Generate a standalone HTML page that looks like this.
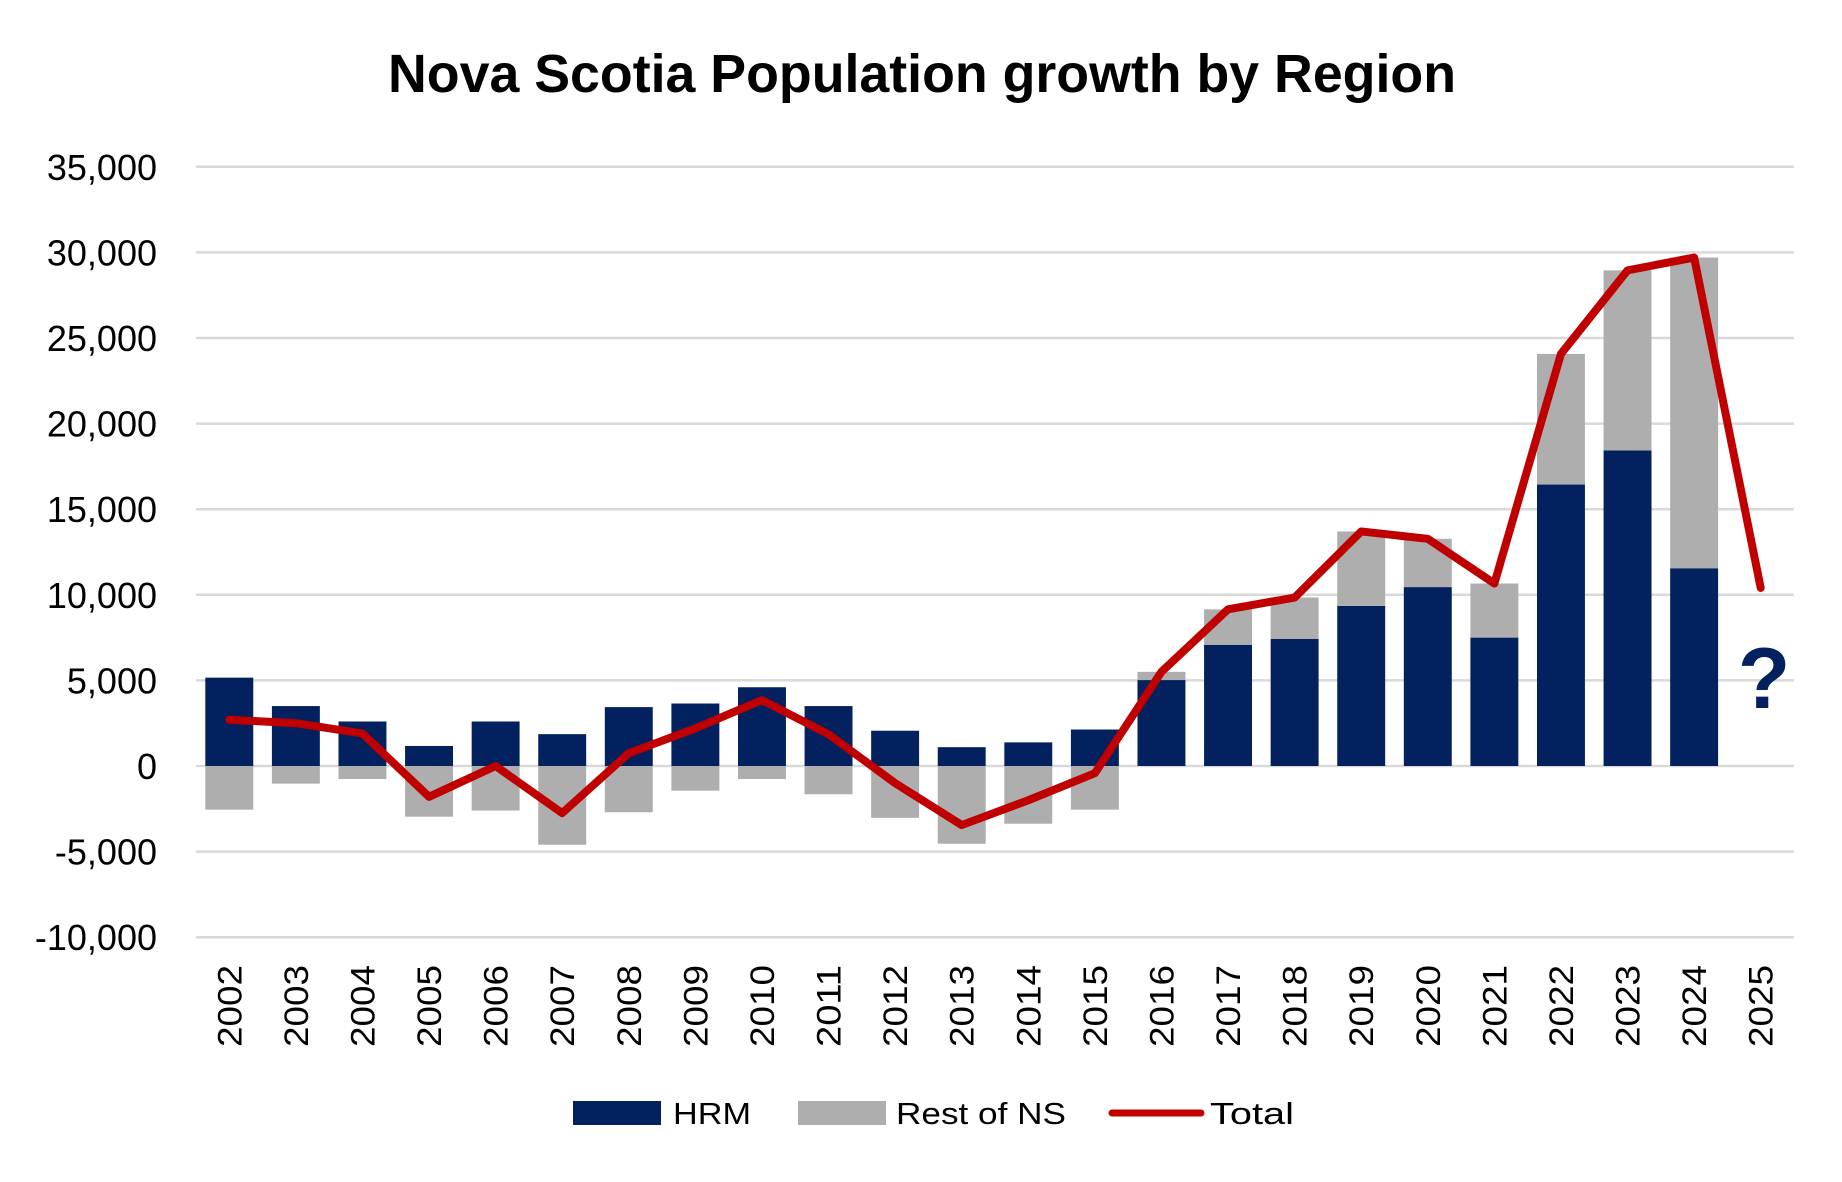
<!DOCTYPE html>
<html><head><meta charset="utf-8"><style>
html,body{margin:0;padding:0;background:#fff;}
svg{display:block;font-family:"Liberation Sans",sans-serif;}
</style></head><body>
<svg id="chart" width="1842" height="1182" viewBox="0 0 1842 1182" xmlns="http://www.w3.org/2000/svg">
<text x="922" y="92" text-anchor="middle" font-size="54" font-weight="bold" textLength="1068" lengthAdjust="spacingAndGlyphs" fill="#000">Nova Scotia Population growth by Region</text>
<g id="grid"></g>
<g id="yticks"></g>
<g id="bars"></g>
<g id="line"></g>
<g id="xticks"></g>
<text x="1764" y="708" text-anchor="middle" font-size="86" font-weight="bold" fill="#02215E">?</text>
<g>
<rect x="573" y="1101" width="88" height="24" fill="#02215E"/>
<text x="673" y="1124" font-size="31" textLength="78" lengthAdjust="spacingAndGlyphs">HRM</text>
<rect x="798" y="1101" width="88" height="24" fill="#AEAEAE"/>
<text x="896" y="1124" font-size="31" textLength="170" lengthAdjust="spacingAndGlyphs">Rest of NS</text>
<line x1="1112" y1="1113" x2="1201" y2="1113" stroke="#C00000" stroke-width="7" stroke-linecap="round"/>
<text x="1210" y="1124" font-size="31" textLength="84" lengthAdjust="spacingAndGlyphs">Total</text>
</g>
</svg>
<script>
const years=["2002","2003","2004","2005","2006","2007","2008","2009","2010","2011","2012","2013","2014","2015","2016","2017","2018","2019","2020","2021","2022","2023","2024","2025"];
const hrm=[5160,3500,2600,1170,2600,1860,3440,3650,4600,3500,2060,1100,1380,2130,5020,7080,7430,9350,10450,7500,16440,18430,11550,null];
const rest=[-2550,-1030,-760,-2960,-2600,-4600,-2700,-1440,-760,-1650,-3030,-4540,-3370,-2550,480,2070,2410,4350,2820,3160,7630,10520,18150,null];
const total=[2700,2500,1900,-1800,0,-2750,750,2200,3850,1850,-1000,-3450,-2000,-420,5500,9150,9840,13700,13270,10660,24070,28950,29700,10400];
const yTicks=[-10000,-5000,0,5000,10000,15000,20000,25000,30000,35000];
const NS="http://www.w3.org/2000/svg";
const L=196,R=1794,Y0=766,PX=85.6/5000;
const y=v=>Y0-v*PX;
const bw=(R-L)/years.length;
const x=i=>L+bw*(i+0.5);
function mk(tag,attrs,parent){const e=document.createElementNS(NS,tag);for(const k in attrs)e.setAttribute(k,attrs[k]);parent.appendChild(e);return e;}
const grid=document.getElementById('grid'),yt=document.getElementById('yticks');
yTicks.forEach(t=>{
 const g=mk('line',{x1:L,x2:R,y1:y(t),y2:y(t),stroke:'#D9D9D9','stroke-width':2.5},grid);
 
 
 const tx=mk('text',{x:157,y:y(t)+13,'text-anchor':'end','font-size':36,fill:'#000'},yt);
 
 
 tx.textContent=t.toLocaleString('en-US');
});
const bars=document.getElementById('bars'),xt=document.getElementById('xticks');
const w=bw*0.72;
years.forEach((yr,i)=>{
 if(hrm[i]!=null){
  const h=hrm[i],r=rest[i];
  const b1=mk('rect',{x:x(i)-w/2,y:Math.min(y(h),Y0),width:w,height:Math.abs(y(h)-Y0),fill:'#02215E'},bars);
  
  
  let top,bot;
  if(r>=0){bot=y(h);top=y(h+r);}else{top=Y0;bot=y(r);}
  const b2=mk('rect',{x:x(i)-w/2,y:top,width:w,height:bot-top,fill:'#AEAEAE'},bars);
  
  
 }
 const tx=mk('text',{transform:`translate(${x(i)+12},965) rotate(-90)`,'text-anchor':'end','font-size':34,fill:'#000',textLength:82,lengthAdjust:'spacingAndGlyphs'},xt);
 
 
 tx.textContent=yr;
});
const pts=total.map((v,i)=>x(i)+','+y(v)).join(' ');
const pl=mk('polyline',{points:pts,fill:'none',stroke:'#C00000','stroke-width':8,'stroke-linejoin':'round','stroke-linecap':'round'},document.getElementById('line'));


</script>
</body></html>
